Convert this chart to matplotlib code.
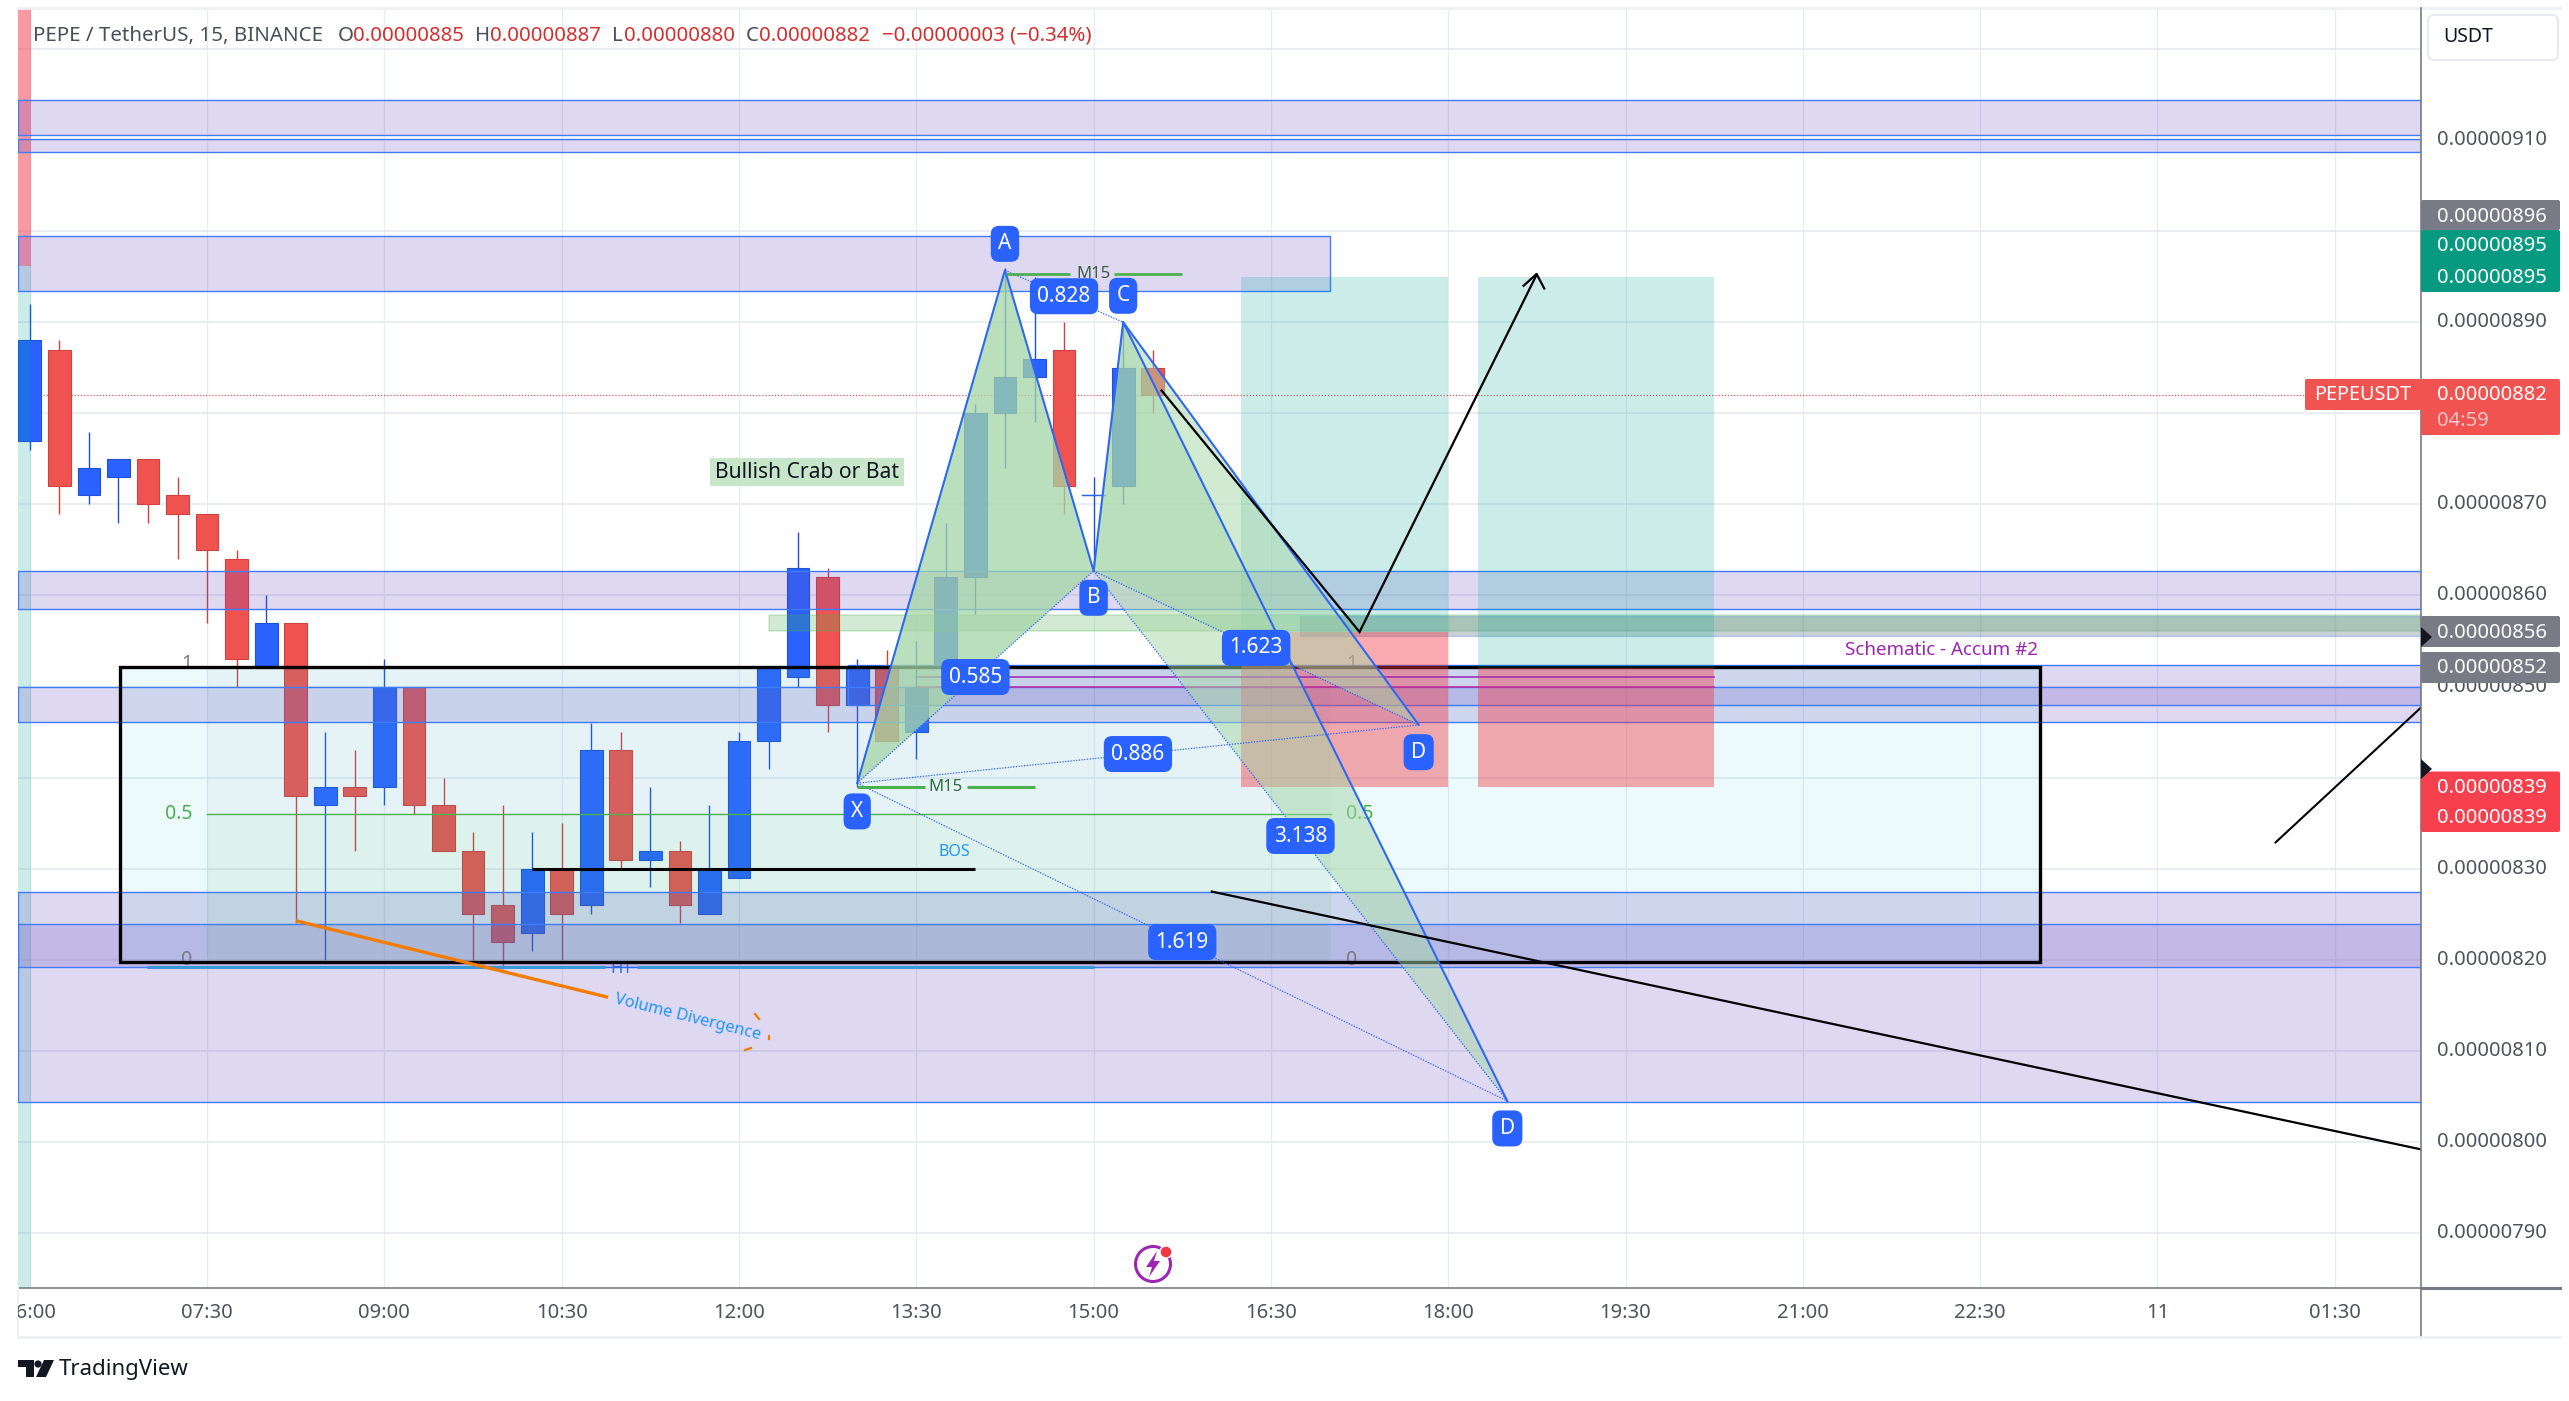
import matplotlib
matplotlib.use("Agg")
import matplotlib.pyplot as plt
from matplotlib.patches import Rectangle, Polygon, Circle, FancyBboxPatch
from matplotlib.transforms import Bbox, TransformedBbox

plt.rcParams['font.family'] = ['Noto Sans', 'DejaVu Sans']

# ---- data (prices in 1e-8 USDT, x in bar index, 15 min bars, 06:00 = 0) ----
opens  = [877,887,871,873,875,871,869,864,852,857,837,839,839,850,837,832,826,823,830,826,843,831,832,825,829,844,851,862,848,852,845,852,862,880,884,887,871,872,885]
highs  = [892,888,878,875,875,873,869,865,860,857,845,843,853,850,840,834,837,834,835,846,845,839,833,837,845,852,867,863,853,854,855,868,881,896,895,890,873,890,887]
lows   = [876,869,870,868,868,864,857,850,852,824,820,832,837,836,832,820,819,821,820,825,830,828,824,825,829,841,850,845,839,844,842,852,858,874,879,869,863,870,880]
closes = [888,872,874,875,870,869,865,853,857,838,839,838,850,837,832,825,822,830,825,843,831,832,826,830,844,852,863,848,852,844,850,862,880,884,886,872,871,885,882]

time_ticks = [0,6,12,18,24,30,36,42,48,54,60,66,72,78]
time_labels = ['06:00','07:30','09:00','10:30','12:00','13:30','15:00','16:30','18:00','19:30','21:00','22:30','11','01:30']
price_grid = [790,800,810,820,830,840,850,860,870,880,890,900,910,920]
price_labels = [790,800,810,820,830,850,860,870,890,910]

# zones: (price top, price bottom, first bar, last bar)
X_L, X_R = -0.4, 80.92
zones = [(914.4,910.5,X_L,X_R),(910.1,908.7,X_L,X_R),(899.5,893.4,X_L,44.0),(862.7,858.5,X_L,X_R),
         (852.4,848.0,27.7,X_R),(850.0,846.1,X_L,X_R),(827.4,819.2,X_L,X_R),(823.9,804.4,X_L,X_R)]

# harmonic pattern points
PX=(28,839.4); PA=(33,895.7); PB=(36,862.7); PC=(37,890.0); PD1=(47,845.8); PD2=(50,804.5)

# position tools: x0, x1, target, entry, stop
positions = [(41,48,895,856,839),(49,57,895,852,839)]
BAND = (-0.4, 0.05, 896.2)

fig = plt.figure(figsize=(25.69,14.01), dpi=100, facecolor='white')
W,H = 2569,1401
PL,PR,PT,PB_ = 18,2421,8,1288
ax = fig.add_axes([PL/W,1-PB_/H,(PR-PL)/W,(PB_-PT)/H])
ax.set_xlim(X_L,X_R)
ax.set_ylim(910-(1288-140)/9.11, 910-(8-140)/9.11)
for s in ax.spines.values(): s.set_visible(False)
ax.set_xticks([]); ax.set_yticks([])

BLUE='#2962ff'; RED='#ef5350'; GREEN='#4caf50'; FILLG='#a5d6a7'; TEAL='#00a498'
for t in time_ticks:
    ax.axvline(t,color='#e6eef3',lw=0.9,zorder=0)
for p in price_grid:
    ax.axhline(p,color='#e4eaef',lw=1.1,zorder=0)

# candles
for i,(o,h,l,c) in enumerate(zip(opens,highs,lows,closes)):
    col = BLUE if c>=o else RED
    edge = '#1f50d8' if c>=o else '#cf4240'
    ax.plot([i,i],[l,h],color=edge,lw=1.0,zorder=2,solid_capstyle='butt')
    ax.add_patch(Rectangle((i-0.385,min(o,c)),0.77,abs(c-o),facecolor=col,edgecolor=edge,lw=0.8,zorder=2))
ax.plot([35.6,36.4],[871,871],color=BLUE,lw=1.0,zorder=2)

# left band
ymin,ymax = ax.get_ylim()
ax.add_patch(Rectangle((BAND[0],BAND[2]),BAND[1]-BAND[0],ymax-BAND[2],fc='#f23645',alpha=0.5,lw=0,zorder=3))
ax.add_patch(Rectangle((BAND[0],ymin),BAND[1]-BAND[0],BAND[2]-ymin,fc=TEAL,alpha=0.2,lw=0,zorder=3))

# zones
for top,bot,x0,x1 in zones:
    ax.add_patch(Rectangle((x0,bot),x1-x0,top-bot,fc='#6a4ec0',alpha=0.22,lw=0,zorder=3))
    ax.add_patch(Rectangle((x0,bot),x1-x0,top-bot,fc='none',ec='#3f7cff',lw=1.0,zorder=3.1))

# H1 line with label (below box outline)
ax.plot([3.97,36],[819.2,819.2],color=BLUE,lw=0.8,zorder=3.2)
ax.plot([3.97,19.47],[819.2,819.2],color='#3a9ad9',lw=2.2,zorder=3.2,solid_capstyle='butt')
ax.plot([20.54,36],[819.2,819.2],color='#3a9ad9',lw=2.2,zorder=3.2,solid_capstyle='butt')
ax.text(20,819.0,'H1',color='#2f6fd0',fontsize=12,ha='center',va='center',zorder=3.25)

# green + gray strips
ax.add_patch(Rectangle((25,856.1),X_R-25,1.8,fc=GREEN,alpha=0.25,ec=GREEN,lw=1.1,zorder=3.2))
ax.add_patch(Rectangle((43,855.5),X_R-43,2.3,fc='#607d8b',alpha=0.35,ec='#5a90e8',lw=1.0,zorder=3.2))

# fib retracement
FX0,FX1 = 6,44.04
ax.add_patch(Rectangle((FX0,836),FX1-FX0,16.1,fc='#90a4ae',alpha=0.07,lw=0,zorder=3))
ax.add_patch(Rectangle((FX0,819.7),FX1-FX0,16.3,fc=GREEN,alpha=0.09,lw=0,zorder=3))
ax.plot([FX0,FX1],[836,836],color=GREEN,lw=1.0,zorder=3.3)
for y,l,c in [(852.5,'1','#787b86'),(836,'0.5',GREEN),(820,'0','#787b86')]:
    ax.text(5.5,y,l,color=c,fontsize=14,ha='right',va='center',zorder=3.3)
    ax.text(44.55,y,l,color=c,fontsize=14,ha='left',va='center',zorder=3.3)

# big schematic box
ax.add_patch(Rectangle((3.05,819.8),64.98,32.3,fc='#00bcd4',alpha=0.07,lw=0,zorder=3))
ax.add_patch(Rectangle((3.05,819.8),64.98,32.3,fc='none',ec='black',lw=2.4,zorder=3.35))
ax.text(64.7,854,'Schematic - Accum #2',color='#9c27b0',fontsize=13.5,ha='center',va='center',zorder=6)

# position tools
for x0,x1,tg,en,st in positions:
    ax.add_patch(Rectangle((x0,en),x1-x0,tg-en,fc=TEAL,alpha=0.2,lw=0,zorder=3.4))
    ax.add_patch(Rectangle((x0,st),x1-x0,en-st,fc='#f23645',alpha=0.42,lw=0,zorder=3.4))
ax.plot([30,57],[851,851],color='#9c27b0',lw=1.1,zorder=3.5)
ax.plot([30,57],[850,850],color='#c2289b',lw=1.1,zorder=3.5)

# harmonic patterns (XAB is drawn once per pattern)
for tri in [(PX,PA,PB),(PX,PA,PB),(PB,PC,PD1),(PB,PC,PD2)]:
    ax.add_patch(Polygon(tri,closed=True,fc=FILLG,alpha=0.5,lw=0,zorder=4))
for path in [(PX,PA,PB,PC,PD1),(PC,PD2)]:
    ax.plot([p[0] for p in path],[p[1] for p in path],color='#2f68f0',lw=1.5,zorder=4.5)
for a,b in [(PX,PB),(PA,PC),(PB,PD1),(PX,PD1),(PB,PD2),(PX,PD2)]:
    ax.plot([a[0],b[0]],[a[1],b[1]],color='#2962ff',lw=0.9,ls=(0,(1,1.2)),zorder=4.5)

def tag(x,y,s,fs=15):
    ax.text(x,y,s,color='white',fontsize=fs,ha='center',va='center',zorder=9,
            bbox=dict(boxstyle='round,pad=0.36,rounding_size=0.4',fc=BLUE,ec=BLUE,lw=0))
def mid(a,b): return ((a[0]+b[0])/2,(a[1]+b[1])/2)
for a,b,s in [(PA,PC,'0.828'),(PX,PB,'0.585'),(PB,PD1,'1.623'),(PX,PD1,'0.886'),(PB,PD2,'3.138'),(PX,PD2,'1.619')]:
    m=mid(a,b); tag(m[0],m[1],s)
tag(PA[0],PA[1]+2.9,'A')
tag(PB[0],PB[1]-2.95,'B')
tag(PC[0],PC[1]+2.9,'C')
tag(PX[0],PX[1]-3.1,'X')
tag(PD1[0],PD1[1]-3.0,'D')
tag(PD2[0],PD2[1]-3.0,'D')

# structure lines
for seg in ([33.05,35.2],[36.7,39]):
    ax.plot(seg,[895.3,895.3],color=GREEN,lw=2,zorder=4.6,solid_capstyle='butt')
ax.text(36,895.3,'M15',color='#3e5a45',fontsize=12,ha='center',va='center',zorder=4.7)
for seg in ([28,30.3],[31.7,34]):
    ax.plot(seg,[839,839],color=GREEN,lw=2.2,zorder=4.6,solid_capstyle='butt')
ax.text(31,839,'M15',color='#2e6b3a',fontsize=12,ha='center',va='center',zorder=6.1)
ax.plot([17,32],[830,830],color='black',lw=2.2,zorder=6,solid_capstyle='butt')
ax.text(31.3,831.8,'BOS',color='#2196f3',fontsize=11.5,ha='center',va='center',zorder=6)
ax.plot([9,19.57],[824.3,815.9],color='#f57c00',lw=2.4,zorder=6,solid_capstyle='butt')
ax.text(22.28,813.7,'Volume Divergence',color='#2196f3',fontsize=11.8,rotation=-14,rotation_mode='anchor',
        ha='center',va='center',zorder=6)

# trend arrows
ax.plot([38.3,45,50.99],[882.5,856,895.2],color='black',lw=1.6,zorder=7,solid_joinstyle='miter')
ax.plot([50.55,50.99,51.25],[894.0,895.3,893.7],color='black',lw=1.6,zorder=7)
ax.plot([40,X_R],[827.5,799.2],color='black',lw=1.6,zorder=7)
ax.plot([76,X_R],[832.9,847.7],color='black',lw=1.5,zorder=7)
# last price
ax.axhline(882,color=RED,lw=0.9,ls=(0,(1,1.5)),zorder=1.5)

# ----- UI overlay in pixels -----
ui = fig.add_axes([0,0,1,1],facecolor='none')
ui.set_xlim(0,W); ui.set_ylim(H,0); ui.axis('off')
UI_FS=14.5
ui.plot([18,2560],[8,8],color='#eef0f3',lw=2)
ui.plot([18,2421],[1288,1288],color='#787b86',lw=1.2)
ui.plot([2421,2560],[1288,1288],color='#787b86',lw=2.2)
ui.plot([2421,2421],[8,1337],color='#787b86',lw=1.2)
ui.plot([18,2560],[1337,1337],color='#eef0f3',lw=2)
ui.plot([18,18],[1288,1337],color='#eef0f3',lw=1.5)

# header
DK='#4b4f59'; RD='#d32f2f'
ui.text(33,36,'PEPE / TetherUS, 15, BINANCE',color=DK,fontsize=14.8,va='center')
for x,s,c in [(338,'O',DK),(353,'0.00000885',RD),(475,'H',DK),(490,'0.00000887',RD),(612,'L',DK),(624.5,'0.00000880',RD),
              (746,'C',DK),(759,'0.00000882',RD),(882.5,'\u22120.00000003 (\u22120.34%)',RD)]:
    ui.text(x,36,s,color=c,fontsize=14.7,va='center')

# bullish label
ui.add_patch(Rectangle((710,458),194,28,fc='#c8e6c9',lw=0))
ui.text(807,472,'Bullish Crab or Bat',color='#131722',fontsize=15.2,ha='center',va='center')

# price scale labels
for p in price_labels:
    y=140+(910-p)*9.11
    ui.text(2437,y,'0.00000%d'%p,color='#50535e',fontsize=UI_FS,va='center')

def box(x0,y0,x1,y1,c):
    ui.add_patch(FancyBboxPatch((x0,y0),x1-x0,y1-y0,boxstyle='round,pad=0,rounding_size=2',fc=c,lw=0,zorder=5))
def lab(y,s,c='white',x=2437):
    ui.text(x,y,s,color=c,fontsize=UI_FS,va='center',zorder=6)
box(2421,200,2560,230,'#787b86'); lab(216.5,'0.00000896')
box(2421,230,2560,292,'#089981'); lab(246,'0.00000895'); lab(277.7,'0.00000895')
box(2421,379,2560,435,'#f05350'); lab(395.5,'0.00000882'); lab(420.5,'04:59','#fbc4c4')
box(2305,379,2421,410,'#f05350'); ui.text(2363,395,'PEPEUSDT',color='white',fontsize=14.3,ha='center',va='center',zorder=6)
box(2421,616,2560,647,'#787b86'); lab(632.6,'0.00000856')
box(2421,652,2560,683,'#787b86'); lab(668,'0.00000852')
box(2421,771.5,2560,832,'#f7404d'); lab(788,'0.00000839'); lab(817.6,'0.00000839')
for y in (637,769):
    ui.add_patch(Polygon([(2421,y-10),(2432,y),(2421,y+10)],fc='#131722',lw=0,zorder=7))

# USDT button
ui.add_patch(FancyBboxPatch((2428,15),130,45,boxstyle='round,pad=0,rounding_size=6',fc='white',ec='#e8eaee',lw=1.5))
ui.text(2443,37,'USDT',color='#131722',fontsize=14,va='center')

# time labels
for t,l in zip(time_ticks,time_labels):
    x=29.7+t*29.55
    tx=ui.text(x,1313,l,color='#50535e',fontsize=UI_FS,ha='center',va='center',clip_on=True)
    tx.set_clip_box(TransformedBbox(Bbox([[18,0],[W,H]]),ui.transData))

# lightning icon
ui.add_patch(Circle((1153,1264),17.5,fc='none',ec='#9c27b0',lw=2.2))
ui.add_patch(Polygon([(1157,1251),(1146,1267),(1152,1267),(1149,1277),(1160,1261),(1154,1261)],fc='#9c27b0',lw=0))
ui.add_patch(Circle((1166,1252),6,fc='#f23645',ec='white',lw=1))

# small orange marks
for a,b in [((755,1014),(759,1019)),((769,1036),(769,1039)),((745,1050),(751,1048))]:
    ui.plot([a[0],b[0]],[a[1],b[1]],color='#f57c00',lw=1.6)

# TradingView logo
ui.add_patch(Polygon([(18,1360),(34,1360),(34,1377),(26,1377),(26,1367),(18,1367)],fc='#131722',lw=0))
ui.add_patch(Circle((38,1364),3.6,fc='#131722',lw=0))
ui.add_patch(Polygon([(44,1360),(54,1360),(46,1377),(36,1377)],fc='#131722',lw=0))
ui.text(59,1370,'TradingView',color='#131722',fontsize=16,va='center')

fig.savefig('out.png',dpi=100)
